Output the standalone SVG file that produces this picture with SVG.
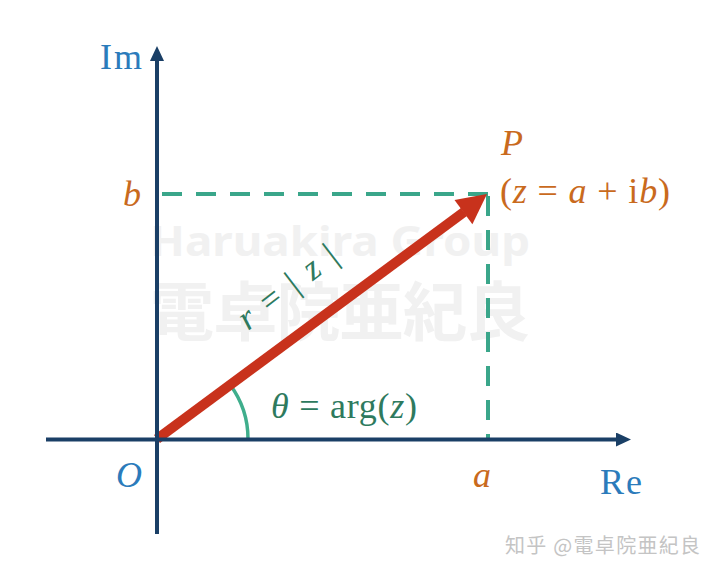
<svg xmlns="http://www.w3.org/2000/svg" width="720" height="574" viewBox="0 0 720 574">
  <defs>
    <style>
      .axis { stroke: #1a3f66; stroke-width: 4; fill: none; }
      .dash { stroke: #3aa68a; stroke-width: 4; fill: none; stroke-dasharray: 20 14; }
      .math { font-family: "Liberation Serif", "Times New Roman", serif; font-size: 36px; }
      .blue { fill: #2b7bbb; }
      .orange { fill: #c96a1d; }
      .green { fill: #2e7a5e; }
      .it { font-style: italic; }
      .wm { font-family: "Noto Sans", "Liberation Sans", "Noto Sans CJK JP", sans-serif; font-weight: bold; fill: #f1f1f1; }
    </style>
    <marker id="axhead" markerUnits="userSpaceOnUse" markerWidth="16" markerHeight="16" refX="0" refY="7" orient="auto">
      <path d="M0,0 L15,7 L0,14 z" fill="#1a3f66"/>
    </marker>
  </defs>

  <rect width="720" height="574" fill="#ffffff"/>

  <!-- watermark -->
  <g id="watermark">
    <text class="wm" x="150" y="256" font-size="41" textLength="380" lengthAdjust="spacingAndGlyphs">Haruakira Group</text>
    <text class="wm" x="150" y="335" font-size="64" textLength="380" font-family="'Noto Sans CJK JP', sans-serif">電卓院亜紀良</text>
  </g>

  <g id="connectors">
    <path id="dash-h" class="dash" d="M162,194 H488"/>
    <path id="dash-v" class="dash" d="M488,196 V439"/>
    <path id="angle-arc" d="M248,439 A91,91 0 0 0 230.1,384.8" stroke="#3fae8c" stroke-width="3.5" fill="none"/>
    <g id="vector">
      <line x1="157" y1="439" x2="464" y2="212" stroke="#c8321c" stroke-width="10"/>
      <polygon points="487,194 472.4,224.2 454.5,200.1" fill="#c8321c"/>
    </g>
    <line id="axis-y" class="axis" x1="157" y1="534" x2="157" y2="61" marker-end="url(#axhead)"/>
    <line id="axis-x" class="axis" x1="46" y1="439.5" x2="616" y2="439.5" marker-end="url(#axhead)"/>
  </g>

  <g id="labels">
    <text id="lbl-im" class="math blue" x="100" y="69" textLength="42">Im</text>
    <text id="lbl-re" class="math blue" x="600" y="494" textLength="42">Re</text>
    <text id="lbl-o" class="math blue it" x="116" y="487">O</text>
    <text id="lbl-a" class="math orange it" x="473" y="487">a</text>
    <text id="lbl-b" class="math orange it" x="123" y="206">b</text>
    <text id="lbl-p" class="math orange it" x="501" y="155">P</text>
    <text id="lbl-z" class="math orange" x="500" y="203" textLength="170">(<tspan class="it">z</tspan> = <tspan class="it">a</tspan> + i<tspan class="it">b</tspan>)</text>
    <text id="lbl-theta" class="math green" x="271" y="418" textLength="146"><tspan class="it">θ</tspan> = arg(<tspan class="it">z</tspan>)</text>
    <text id="lbl-r" class="green" style="font-family:'Liberation Serif','Times New Roman',serif;font-size:35px" transform="translate(248,331) rotate(-37.5)" textLength="116"><tspan style="font-style:italic">r</tspan> = | <tspan style="font-style:italic">z</tspan> |</text>
  </g>

  <text id="credit" x="505" y="553" font-family="'Noto Sans CJK SC', 'Noto Sans CJK JP', sans-serif" font-size="20" fill="#c4c4c4" textLength="195">知乎 @電卓院亜紀良</text>
</svg>
